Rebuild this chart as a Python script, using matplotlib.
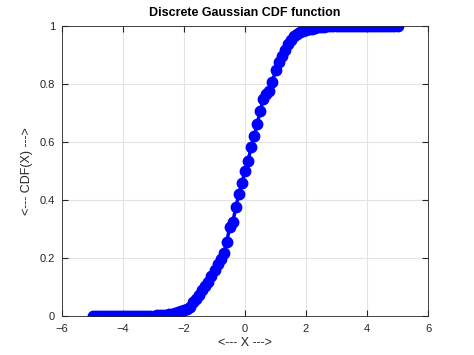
import numpy as np
import matplotlib
matplotlib.use("Agg")
import matplotlib.pyplot as plt

plt.rcParams['font.family'] = ['Liberation Sans', 'DejaVu Sans']

# sample points -5:0.1:5
x_vals = np.round(np.arange(-50, 51) / 10.0, 1)

cdf_left_tail = [0.0] * 20          # -5.0 .. -3.1
cdf_mid = [0.001, 0.002, 0.002, 0.003, 0.004, 0.006, 0.008, 0.010, 0.013, 0.016,
           0.019, 0.024, 0.031, 0.048, 0.060, 0.072, 0.088, 0.104, 0.118, 0.138,
           0.160, 0.178, 0.195, 0.216, 0.255, 0.308, 0.324, 0.375, 0.420, 0.460,
           0.500, 0.535, 0.582, 0.620, 0.662, 0.708, 0.747, 0.765, 0.775, 0.806,
           0.848, 0.874, 0.897, 0.916, 0.936, 0.952, 0.965, 0.973, 0.978, 0.982,
           0.986, 0.989, 0.991, 0.993, 0.995, 0.996, 0.997, 0.998, 0.998, 0.999,
           0.999]               # -3.0 .. 3.0
cdf_right_tail = [1.0] * 20         # 3.1 .. 5.0
cdf_vals = cdf_left_tail + cdf_mid + cdf_right_tail

xticks = [-6, -4, -2, 0, 2, 4, 6]
yticks = [0, 0.2, 0.4, 0.6, 0.8, 1]
ytick_labels = ['0', '0.2', '0.4', '0.6', '0.8', '1']

fig = plt.figure(figsize=(4.74, 3.55), dpi=100)
ax = fig.add_axes([0.1308, 0.110, 0.7722, 0.817])

ax.plot(x_vals, cdf_vals, '-o', color='#0000ff', linewidth=2.5,
        markersize=7.5, markerfacecolor='#0000ff', markeredgecolor='#0000ff')

ax.set_xlim(-6, 6)
ax.set_ylim(0, 1)
ax.set_xticks(xticks)
ax.set_yticks(yticks)
ax.set_yticklabels(ytick_labels)
ax.grid(True, color='#e3e3e3', linewidth=0.8)
ax.set_axisbelow(True)
ax.tick_params(direction='in', top=True, right=True, labelsize=8,
               length=4, color='#262626', labelcolor='#262626')
ax.tick_params(axis='x', pad=6)
ax.tick_params(axis='y', pad=5)
for s in ax.spines.values():
    s.set_color('#262626')
    s.set_linewidth(0.6)

ax.set_title('Discrete Gaussian CDF function', fontsize=9, fontweight='bold', pad=7)
ax.set_xlabel('<--- X --->', fontsize=9, color='#262626', labelpad=2)
ax.set_ylabel('<--- CDF(X) --->', fontsize=9, color='#262626', labelpad=5)

fig.savefig('out.png', dpi=100)
